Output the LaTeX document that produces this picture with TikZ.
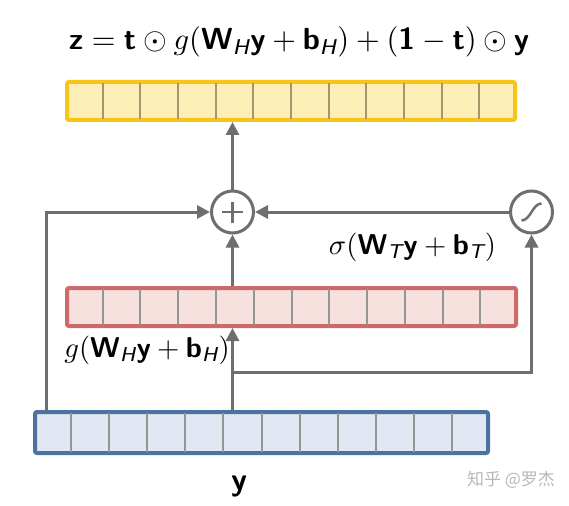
\documentclass[tikz,border=0pt]{standalone}
\usepackage{amsmath}
\usepackage{fontspec}
\newfontfamily\cjk{Noto Sans CJK SC}
\usetikzlibrary{arrows.meta,calc}
\newcommand{\vb}[1]{\text{\sffamily\bfseries #1}}
\newcommand{\vi}[1]{\text{\sffamily\itshape #1}}
\definecolor{lg}{RGB}{110,110,110}
\definecolor{yb}{RGB}{247,197,24}
\definecolor{yf}{RGB}{253,238,184}
\definecolor{rb}{RGB}{204,106,106}
\definecolor{rf}{RGB}{246,225,223}
\definecolor{bb}{RGB}{76,114,160}
\definecolor{bf}{RGB}{225,232,243}
\definecolor{ydiv}{RGB}{165,150,110}
\definecolor{gdiv}{RGB}{150,150,150}
\definecolor{wm}{RGB}{185,185,185}
\tikzset{
  bar/.style={draw, line width=4pt, rounded corners=2pt, minimum height=38pt, inner sep=0pt},
  arr/.style={draw=lg, line width=3pt, -{Triangle[length=13pt,width=13pt]}},
  op/.style={circle, draw=lg, line width=3pt, minimum size=42pt, inner sep=0pt},
  opsym/.style={draw=lg, line width=2.5pt},
  divider/.style={line width=2pt, shorten <=3pt, shorten >=3pt},
  lbl/.style={inner sep=0pt, transform shape},
}
\begin{document}
\begin{tikzpicture}[x=1pt,y=-1pt]
\fill[white] (0,0) rectangle (569,505);
\useasboundingbox (0,0) rectangle (569,505);

% bars
\node[bar, draw=yb, fill=yf, minimum width=448pt] (zbar) at (291,101) {};
\node[bar, draw=rb, fill=rf, minimum width=449pt] (hbar) at (291.5,307) {};
\node[bar, draw=bb, fill=bf, minimum width=453pt, minimum height=41pt] (ybar) at (261.5,432.5) {};
\foreach \i in {1,...,11} {
  \draw[divider, ydiv] ($(zbar.north west)!\i/12!(zbar.north east)$) -- ($(zbar.south west)!\i/12!(zbar.south east)$);
  \draw[divider, gdiv] ($(hbar.north west)!\i/12!(hbar.north east)$) -- ($(hbar.south west)!\i/12!(hbar.south east)$);
  \draw[divider, gdiv] ($(ybar.north west)!\i/12!(ybar.north east)$) -- ($(ybar.south west)!\i/12!(ybar.south east)$);
}

% operators
\node[op] (plus) at (232.5,212) {};
\node[op] (sig) at (531.5,212) {};
\draw[opsym] ($(plus)+(-10.5,0)$) -- ($(plus)+(10.5,0)$);
\draw[opsym] ($(plus)+(0,-10.5)$) -- ($(plus)+(0,10.5)$);
\draw[opsym] ($(sig)+(-10,8.5)$) .. controls ($(sig)+(-1,8.5)$) and ($(sig)+(1,-8.5)$) .. ($(sig)+(10,-8.5)$);

% connectors
\coordinate (yl) at ([xshift=13pt]ybar.north west);
\coordinate (br) at (232.5,372);
\draw[arr] (yl) |- (plus.west);
\draw[arr] (ybar.north -| plus) -- (hbar.south -| plus);
\draw[arr] (br) -| (sig.south);
\draw[arr] (hbar.north -| plus) -- (plus.south);
\draw[arr] (plus.north) -- (zbar.south -| plus);
\draw[arr] (sig.west) -- (plus.east);

% labels
\node[lbl, anchor=base, scale=3.05] (eq) at (299,50)
  {$\vb{z} = \vb{t} \odot g(\vb{W}_{\vi{H}}\vb{y} + \vb{b}_{\vi{H}}) + (\vb{1} - \vb{t}) \odot \vb{y}$};
\node[lbl, anchor=base, scale=2.87] (siglbl) at (412.5,254)
  {$\sigma(\vb{W}_{\vi{T}}\vb{y} + \vb{b}_{\vi{T}})$};
\node[lbl, anchor=base, scale=2.87] (glbl) at (147,357)
  {$g(\vb{W}_{\vi{H}}\vb{y} + \vb{b}_{\vi{H}})$};
\node[lbl, anchor=base, scale=3.2] (ylbl) at (239,490) {$\vb{y}$};
\node[inner sep=0pt, text=wm, font=\cjk\fontsize{17}{20}\selectfont] (wmk) at (511,480) {知乎 @罗杰};
\end{tikzpicture}
\end{document}
